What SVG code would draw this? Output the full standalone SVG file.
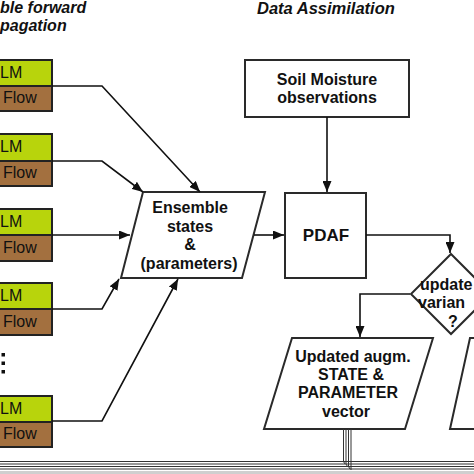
<svg xmlns="http://www.w3.org/2000/svg" width="474" height="474" viewBox="0 0 474 474">
<style>
.lm{fill:#b8d40c;stroke:#222;stroke-width:2}
.pf{fill:#a3703f;stroke:#222;stroke-width:2}
.box{fill:#fff;stroke:#2a2a2a;stroke-width:2}
.t{font-family:"Liberation Sans",Arial,sans-serif;font-size:16px;fill:#111}
.b{font-weight:bold;text-anchor:middle}
.h{font-family:"Liberation Sans",Arial,sans-serif;font-size:16px;font-weight:bold;font-style:italic;fill:#111}
.c{fill:none;stroke:#111;stroke-width:1.6}
.bl{fill:none;stroke:#333;stroke-width:1}
</style>
<defs>
<marker id="ah" markerUnits="userSpaceOnUse" markerWidth="11" markerHeight="9" refX="11" refY="4.5" orient="auto">
<path d="M0,0 L11,4.5 L0,9 z" fill="#111"/>
</marker>
</defs>
<g id="headings">
<text class="h" x="0" y="12.5">ble forward</text>
<text class="h" x="0" y="31">pagation</text>
<text class="h" x="257" y="14" style="font-size:16.5px">Data Assimilation</text>
</g>
<g id="member1"><rect class="lm" x="-10" y="60" width="62" height="26"/><rect class="pf" x="-10" y="86" width="62" height="25"/><text class="t" x="0" y="78">LM</text><text class="t" x="3" y="103">Flow</text></g>
<g id="member2"><rect class="lm" x="-10" y="134" width="62" height="27"/><rect class="pf" x="-10" y="161" width="62" height="25"/><text class="t" x="0" y="152">LM</text><text class="t" x="3" y="178">Flow</text></g>
<g id="member3"><rect class="lm" x="-10" y="209" width="62" height="26"/><rect class="pf" x="-10" y="235" width="62" height="26"/><text class="t" x="0" y="227">LM</text><text class="t" x="3" y="253">Flow</text></g>
<g id="member4"><rect class="lm" x="-10" y="283" width="62" height="26"/><rect class="pf" x="-10" y="309" width="62" height="26"/><text class="t" x="0" y="301">LM</text><text class="t" x="3" y="327">Flow</text></g>
<g id="dots"><rect x="1.5" y="353" width="3.5" height="3.5" fill="#111"/><rect x="1.5" y="361.5" width="3.5" height="3.5" fill="#111"/><rect x="1.5" y="370" width="3.5" height="3.5" fill="#111"/></g>
<g id="member5"><rect class="lm" x="-10" y="396" width="62" height="26"/><rect class="pf" x="-10" y="422" width="62" height="25"/><text class="t" x="0" y="414">LM</text><text class="t" x="3" y="439">Flow</text></g>
<g id="ensemble"><polygon class="box" points="143,192 265,192 242,278 121,278"/>
<text class="t b" x="190" y="213">Ensemble</text><text class="t b" x="190" y="232">states</text><text class="t b" x="190" y="250">&amp;</text><text class="t b" x="189" y="269">(parameters)</text></g>
<g id="soil"><rect class="box" x="245" y="60" width="164" height="57"/><text class="t b" x="327" y="85">Soil Moisture</text><text class="t b" x="327" y="103">observations</text></g>
<g id="pdaf"><rect class="box" x="285" y="193" width="81" height="85"/><text class="t b" x="326" y="241" style="font-size:17px">PDAF</text></g>
<g id="decision"><polygon class="box" points="451,254 491,294 451,334 411,294"/><text class="t" x="420" y="290" style="font-weight:bold">update</text><text class="t" x="418" y="308" style="font-weight:bold">varian</text><text class="t b" x="453" y="327">?</text></g>
<g id="updated"><polygon class="box" points="292,338 433,338 405,429 264,429"/>
<text class="t b" x="353" y="362">Updated augm.</text><text class="t b" x="351" y="380">STATE &amp;</text><text class="t b" x="348" y="398">PARAMETER</text><text class="t b" x="346" y="417">vector</text></g>
<g id="right"><polygon class="box" points="470,338 500,338 480,429 450,429"/></g>
<g id="connectors">
<polyline class="c" points="52,86 102,86 200,192" marker-end="url(#ah)"/>
<polyline class="c" points="52,161 102,161 143,192" marker-end="url(#ah)"/>
<polyline class="c" points="52,235 130,235" marker-end="url(#ah)"/>
<polyline class="c" points="52,309 102,309 119,279" marker-end="url(#ah)"/>
<polyline class="c" points="52,421 102,421 178,279" marker-end="url(#ah)"/>
<polyline class="c" points="254,235 284,235" marker-end="url(#ah)"/>
<polyline class="c" points="327,117 327,192" marker-end="url(#ah)"/>
<polyline class="c" points="366,235 450,235 450,253" marker-end="url(#ah)"/>
<polyline class="c" points="410,294 360,294 360,337" marker-end="url(#ah)"/>
<g id="bus">
<line class="bl" x1="0" y1="461.5" x2="474" y2="461.5"/>
<line class="bl" x1="0" y1="464" x2="474" y2="464"/>
<line class="bl" x1="0" y1="466.5" x2="474" y2="466.5"/>
<line class="bl" x1="0" y1="469" x2="474" y2="469"/>
<polyline class="bl" points="343.5,429 343.5,461.5 345,464"/>
<polyline class="bl" points="346,429 346,464 347.5,466.5"/>
<polyline class="bl" points="348.5,429 348.5,466.5 350,469"/>
<polyline class="bl" points="351,429 351,470"/>
<rect x="0" y="471" width="474" height="3" fill="#cfcfcf"/>
</g>
</g>
</svg>
